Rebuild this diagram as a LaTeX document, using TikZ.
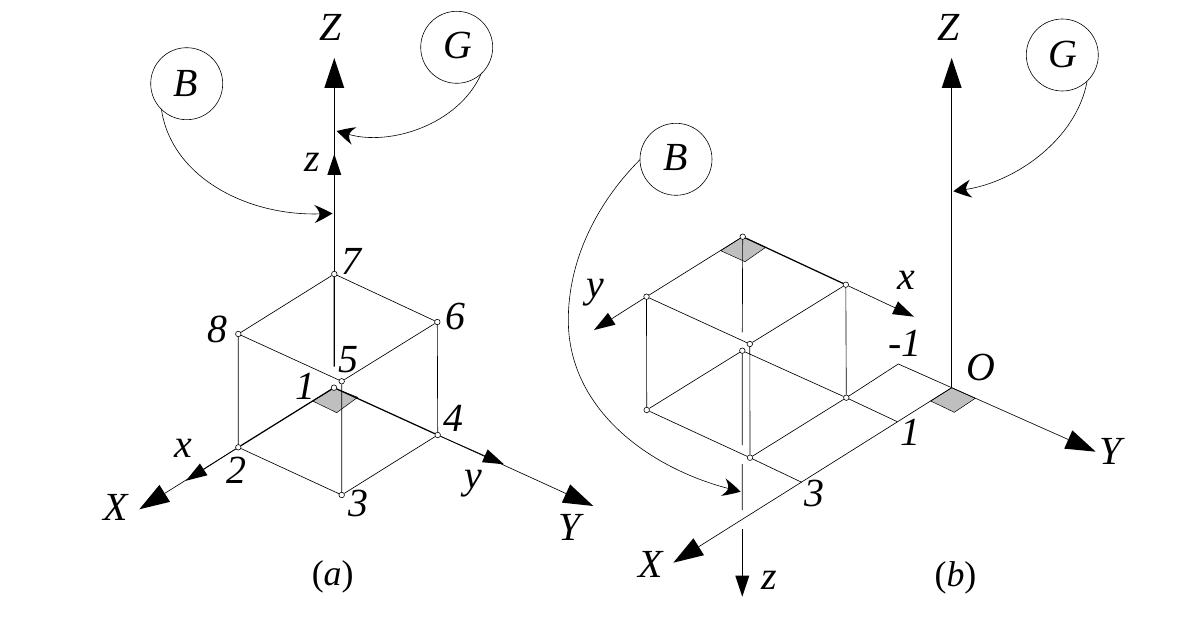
\documentclass[tikz,border=0pt]{standalone}
\usepackage{fontspec}
\setmainfont{Liberation Serif}
\usetikzlibrary{arrows.meta}
\pgfdeclarearrow{
  name=Swoop,
  setup code={
    \pgfarrowssettipend{0pt}
    \pgfarrowssetlineend{-13bp}
    \pgfarrowssetvisualbackend{-13bp}
    \pgfarrowssetbackend{-18bp}
    \pgfarrowshullpoint{0pt}{0pt}
    \pgfarrowshullpoint{-18bp}{9bp}
    \pgfarrowshullpoint{-18bp}{-9bp}
  },
  drawing code={
    \pgfpathmoveto{\pgfqpoint{0pt}{0pt}}
    \pgfpathcurveto{\pgfpoint{-6bp}{3.4bp}}{\pgfpoint{-12bp}{6.6bp}}{\pgfpoint{-18bp}{9bp}}
    \pgfpathcurveto{\pgfpoint{-15bp}{5.5bp}}{\pgfpoint{-13bp}{2.5bp}}{\pgfpoint{-13bp}{0bp}}
    \pgfpathcurveto{\pgfpoint{-13bp}{-2.5bp}}{\pgfpoint{-15bp}{-5.5bp}}{\pgfpoint{-18bp}{-9bp}}
    \pgfpathcurveto{\pgfpoint{-12bp}{-6.6bp}}{\pgfpoint{-6bp}{-3.4bp}}{\pgfpoint{0bp}{0bp}}
    \pgfpathclose
    \pgfusepathqfill
  }
}
\tikzset{
  thinln/.style={line width=0.65bp,black},
  thickln/.style={line width=1.25bp,black},
  bigax/.style={thinln,-{Triangle[length=30bp,width=20bp,line width=0pt]}},
  smallax/.style={thinln,-{Triangle[length=21bp,width=14bp,line width=0pt]}},
  smallaxk/.style={thickln,-{Triangle[length=21bp,width=14bp,line width=0pt]}},
  curv/.style={line width=0.6bp,black,-{Swoop}},
  vtx/.style={circle,draw,fill=white,line width=0.6bp,minimum size=5.5bp,inner sep=0pt},
  ballnode/.style={circle,draw,line width=0.6bp,minimum size=72bp,inner sep=0pt},
  greyface/.style={draw=black,line width=0.5bp,fill=black!25},
  lab/.style={inner sep=0pt,anchor=base,font=\fontsize{40}{40}\selectfont\itshape},
  captext/.style={inner sep=0pt,anchor=base,font=\fontsize{36}{36}\selectfont}
}
\begin{document}
\begin{tikzpicture}[x=1bp,y=-1bp]
\useasboundingbox (0,0) rectangle (1194,632);
% ----- figure (a)
\draw[greyface] (334,388) -- (312.7,401) -- (336.7,412.7) -- (357.7,397.3) -- cycle;
\node[vtx] (a1) at (334,387.7) {};
\node[vtx] (a2) at (238.3,447.3) {};
\node[vtx] (a3) at (341.7,495) {};
\node[vtx] (a4) at (437.7,435) {};
\node[vtx] (a5) at (341.7,381.3) {};
\node[vtx] (a6) at (437.3,322) {};
\node[vtx] (a7) at (334.3,274) {};
\node[vtx] (a8) at (238.3,334) {};
\coordinate (aZ) at (334.3,58);
\coordinate (az) at (334.3,154);
\coordinate (azend) at (334.3,366.7);
\coordinate (aX) at (139.3,509.3);
\coordinate (ax) at (186,480.7);
\coordinate (aY) at (593.3,506);
\coordinate (ay) at (504,464.3);
\draw[thinln] (a7)--(a8) (a8)--(a5) (a5)--(a6) (a6)--(a7) (a8)--(a2) (a6)--(a4) (a5)--(a3) (a2)--(a3) (a3)--(a4);
\draw[thickln] (a1)--(a2) (a1)--(a4) (a7)--(azend);
\draw[bigax] (a7)--(aZ);
\draw[smallaxk] (a7)--(az);
\draw[bigax] (a2)--(aX);
\draw[smallax] (a2)--(ax);
\draw[bigax] (a4)--(aY);
\draw[smallax] (a4)--(ay);
\node[ballnode] (aB) at (186.7,83.7) {};
\node[ballnode] (aG) at (456.7,47.3) {};
\coordinate (aBt) at (332.5,213.5);
\coordinate (aGt) at (336.7,131);
\draw[curv] (aB.226) .. controls (172,178) and (248,216) .. (aBt);
\draw[curv] (aG.312) .. controls (458,125) and (390,146) .. (aGt);
\node[lab] (lab1) at (186,96.7) {B};
\node[lab] (lab2) at (457.5,59) {G};
\node[lab] (lab3) at (331,41) {Z};
\node[lab] (lab4) at (312,171.7) {z};
\node[lab] (lab5) at (351,275) {7};
\node[lab] (lab6) at (217.5,343) {8};
\node[lab] (lab7) at (348,372.7) {5};
\node[lab] (lab8) at (305,399.3) {1};
\node[lab] (lab9) at (236.7,483.3) {2};
\node[lab] (lab10) at (358.8,516.7) {3};
\node[lab] (lab11) at (453,431.7) {4};
\node[lab] (lab12) at (455.8,330) {6};
\node[lab] (lab13) at (183,457.7) {x};
\node[lab] (lab14) at (115.5,520) {X};
\node[lab] (lab15) at (473.7,488) {y};
\node[lab] (lab16) at (570,540.7) {Y};
\node[captext] (capa) at (332.7,585) {(\textit{a})};
% ----- figure (b)
\draw[greyface] (742.7,236.7) -- (720.7,250.7) -- (745,261.7) -- (765.7,247.3) -- cycle;
\draw[greyface] (951.7,387.7) -- (930.7,401) -- (954.3,412.3) -- (975.3,398.3) -- cycle;
\node[vtx] (bA) at (742.7,236.7) {};
\node[vtx] (bL) at (646.5,296.7) {};
\node[vtx] (bR) at (845.8,284.7) {};
\node[vtx] (bC) at (749.8,344) {};
\node[vtx] (bD) at (742.3,350.7) {};
\node[vtx] (bLL) at (646.7,410) {};
\node[vtx] (bLR) at (846.3,397.7) {};
\node[vtx] (bF) at (750,457.7) {};
\coordinate (bO) at (951.7,387.7);
\coordinate (bm) at (898.3,364);
\coordinate (bp) at (897.3,421.7);
\coordinate (bq) at (801.7,482.3);
\coordinate (bZ) at (951.7,58);
\coordinate (bX) at (673.3,562.7);
\coordinate (bY) at (1095.7,451.7);
\coordinate (bx) at (914,316.7);
\coordinate (by) at (594,330);
\coordinate (bz1) at (742.3,332.3);
\coordinate (bz2) at (742.3,445);
\coordinate (bz3) at (742.3,464);
\coordinate (bz4) at (742.3,510);
\coordinate (bz5) at (742.3,529.3);
\coordinate (bz) at (742.3,596.7);
\draw[thinln] (bA)--(bL) (bR)--(bC) (bL)--(bC) (bL)--(bLL) (bR)--(bLR) (bC)--(bF)
  (bLL)--(bD) (bD)--(bLR) (bLL)--(bF) (bF)--(bLR)
  (bA)--(bz1) (bD)--(bz2) (bz3)--(bz4)
  (bLR)--(bm)--(bO) (bLR)--(bp) (bF)--(bq);
\draw[thickln] (bA)--(bR);
\draw[bigax] (bO)--(bZ);
\draw[bigax] (bO)--(bX);
\draw[bigax] (bO)--(bY);
\draw[smallax] (bR)--(bx);
\draw[smallax] (bL)--(by);
\draw[smallax] (bz5)--(bz);
\node[ballnode] (bB) at (676,159.3) {};
\node[ballnode] (bG) at (1062.3,55) {};
\coordinate (bBt) at (740.7,491.7);
\coordinate (bGt) at (953.3,191.3);
\draw[curv] (bB.181) .. controls (595,205) and (568.3,262) .. (568.3,320) .. controls (568.3,410) and (650,468) .. (bBt);
\draw[curv] (bG.313) .. controls (1076,140) and (1015,182) .. (bGt);
\node[lab] (lab17) at (675.8,171) {B};
\node[lab] (lab18) at (1063.3,67.3) {G};
\node[lab] (lab19) at (949,41) {Z};
\node[lab] (lab20) at (595,298) {y};
\node[lab] (lab21) at (906.7,290) {x};
\node[lab] (lab22) at (905,356.7) {-1};
\node[lab] (lab23) at (981,380) {O};
\node[lab] (lab24) at (910,445) {1};
\node[lab] (lab25) at (1110.8,464) {Y};
\node[lab] (lab26) at (814.8,506.7) {3};
\node[lab] (lab27) at (650.8,577.3) {X};
\node[lab] (lab28) at (768.8,589) {z};
\node[captext] (capb) at (955.5,586.7) {(\textit{b})};
\end{tikzpicture}
\end{document}
